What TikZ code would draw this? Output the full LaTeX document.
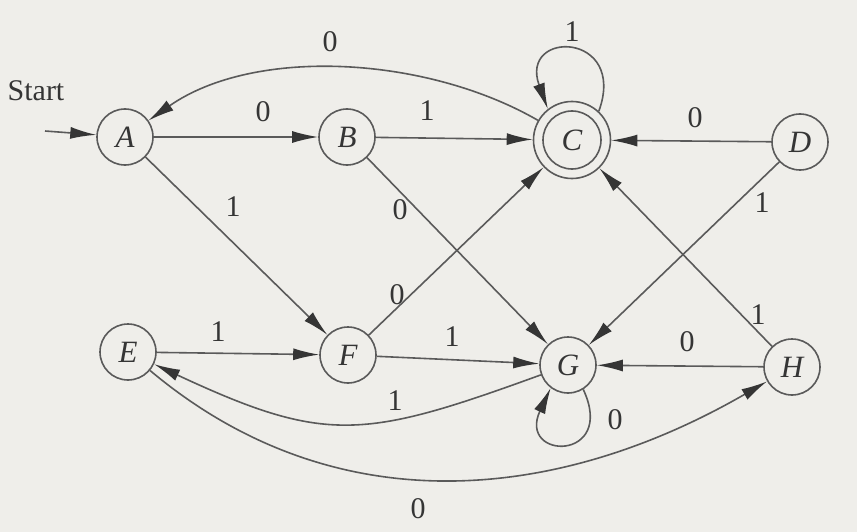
\documentclass[tikz,border=0pt]{standalone}
\usepackage{fontspec}
\setmainfont{Liberation Serif}
\usetikzlibrary{arrows.meta}
\definecolor{bg}{HTML}{EFEEEA}
\definecolor{ln}{HTML}{5A5A5A}
\definecolor{tx}{HTML}{353535}
\begin{document}
\begin{tikzpicture}[x=1pt,y=1pt,
  state/.style={circle,draw=ln,line width=1.6pt,minimum size=56pt,inner sep=0pt,text=tx,font=\fontsize{31}{34}\selectfont\itshape},
  edge/.style={draw=ln,line width=1.6pt,-{Latex[length=26pt,width=12pt,color=tx]}},
  lbl/.style={text=tx,font=\fontsize{30}{34}\selectfont,inner sep=0pt}]
\fill[bg] (0,0) rectangle (857,-532);
\useasboundingbox (0,0) rectangle (857,-532);

\node[state] (A) at (125,-137) {A};
\node[state] (B) at (347,-137) {B};
\node[state,minimum size=77pt] (C) at (572,-140) {C};
\draw[ln,line width=1.6pt] (C.center) circle[radius=29pt];
\node[state] (D) at (800,-142) {D};
\node[state] (E) at (128,-352) {E};
\node[state] (F) at (348,-355) {F};
\node[state] (G) at (568,-365) {G};
\node[state] (H) at (792,-367) {H};

\node[lbl] (start) at (36,-91) {Start};
\coordinate (s0) at (45,-131);
\draw[edge] (s0) -- (A);

\draw[edge] (A) -- (B);
\draw[edge] (B) -- (C);
\draw[edge] (D) -- (C);
\draw[edge] (A) -- (F);
\draw[edge] (B) -- (G);
\draw[edge] (D) -- (G);
\draw[edge] (F) -- (C);
\draw[edge] (E) -- (F);
\draw[edge] (F) -- (G);
\draw[edge] (H) -- (G);
\draw[edge] (H) -- (C);
\draw[edge] (C) to[out=150,in=35,looseness=0.85] (A);
\draw[edge] (G) to[out=200,in=-25,looseness=1.25] (E);
\draw[edge] (E) to[out=-40,in=-150] (H);
\draw[edge] (C.47) .. controls +(70:85) and +(110:85) .. (C.128);
\draw[edge] (G.-58) .. controls +(-65:80) and +(-115:80) .. (G.-127);

\node[lbl] (l1) at (330,-42) {0};
\node[lbl] (l2) at (263,-112) {0};
\node[lbl] (l3) at (427,-111) {1};
\node[lbl] (l4) at (695,-118) {0};
\node[lbl] (l5) at (572,-32) {1};
\node[lbl] (l6) at (233,-207) {1};
\node[lbl] (l7) at (400,-210) {0};
\node[lbl] (l8) at (762,-203) {1};
\node[lbl] (l9) at (397,-295) {0};
\node[lbl] (l10) at (218,-332) {1};
\node[lbl] (l11) at (452,-337) {1};
\node[lbl] (l12) at (687,-342) {0};
\node[lbl] (l13) at (758,-315) {1};
\node[lbl] (l14) at (395,-401) {1};
\node[lbl] (l15) at (615,-420) {0};
\node[lbl] (l16) at (418,-509) {0};
\end{tikzpicture}
\end{document}
